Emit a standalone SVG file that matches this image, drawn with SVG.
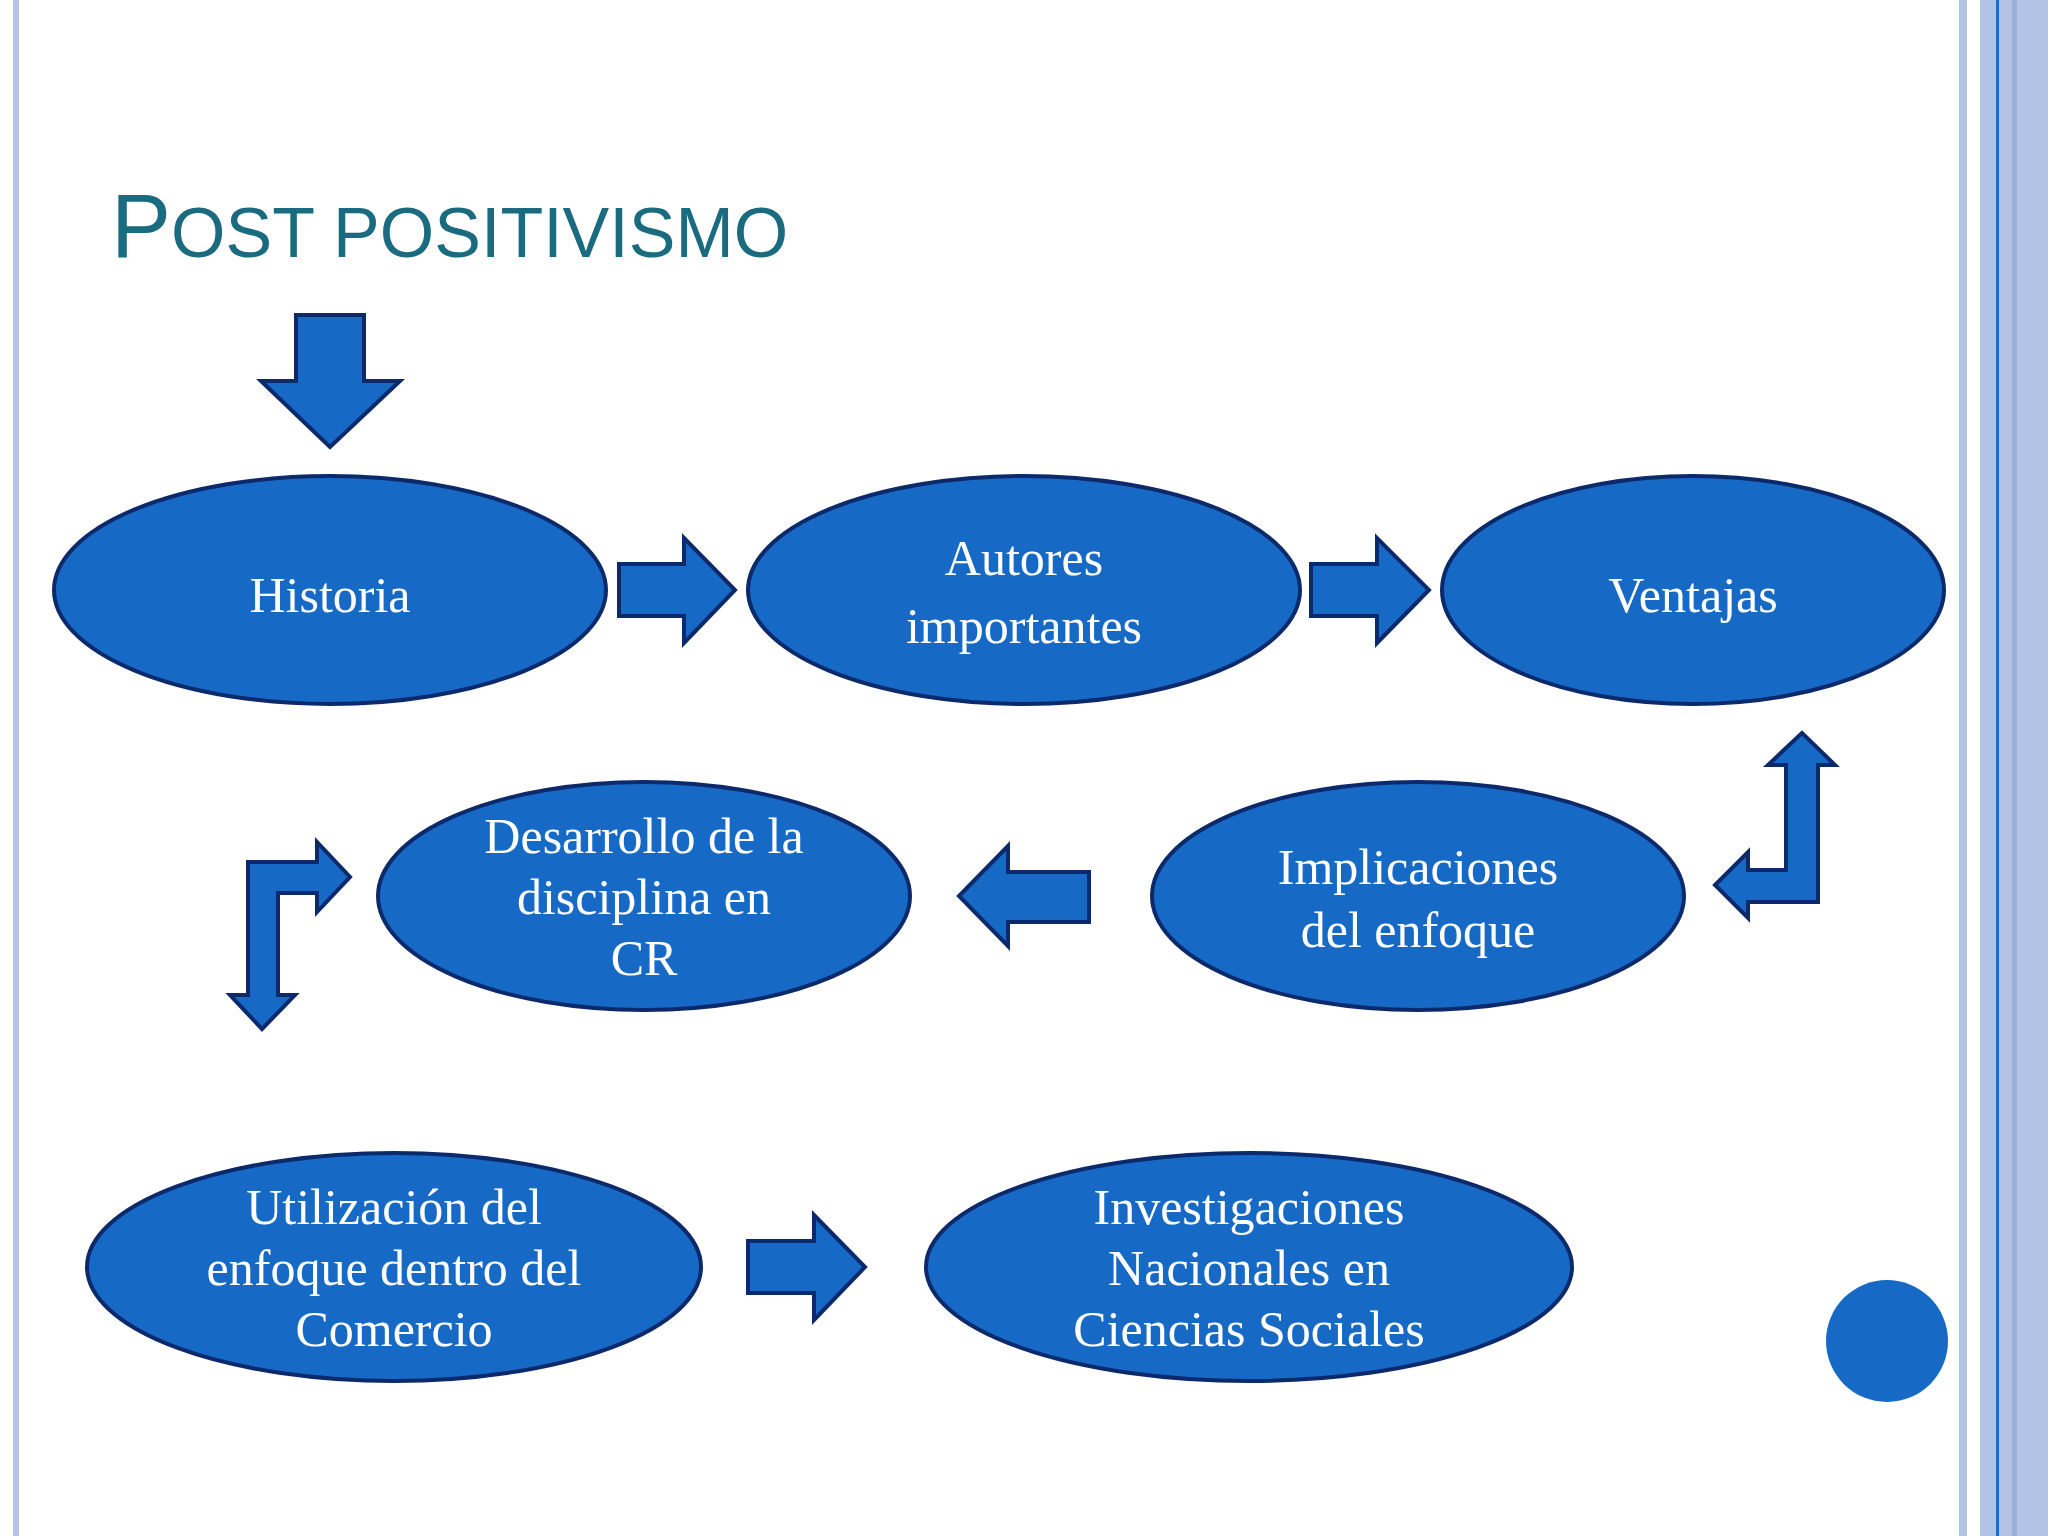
<svg xmlns="http://www.w3.org/2000/svg" width="2048" height="1536" viewBox="0 0 2048 1536">
<style>
.n{fill:#1769c6;stroke:#0c2a6b;stroke-width:4}
.a{fill:#1769c6;stroke:#0c2a6b;stroke-width:4;stroke-linejoin:miter}
.t{fill:#fff;font-family:"Liberation Serif",serif;font-size:50px;text-anchor:middle}
.ti{fill:#1a6b80;font-family:"Liberation Sans",Arial,sans-serif}
</style>
<rect width="2048" height="1536" fill="#fff"/>
<rect x="13" y="0" width="6" height="1536" fill="#b3c3e6"/>
<rect x="1959" y="0" width="8" height="1536" fill="#b3c3e6"/>
<rect x="1980" y="0" width="68" height="1536" fill="#b3c3e6"/>
<rect x="1996" y="0" width="3" height="1536" fill="#1f6ad0"/>
<rect x="2012" y="0" width="5" height="1536" fill="#98b2dd"/>
<text class="ti" x="111" y="257"><tspan font-size="90">P</tspan><tspan font-size="70">OST POSITIVISMO</tspan></text>
<g id="connectors">
<path class="a" d="M296,315H364V381H400L330,447L261,381H296Z"/>
<path class="a" d="M619,564H684V538L735,590L684,643V616H619Z"/>
<path class="a" d="M1311,564H1377V538L1429,590L1377,643V616H1311Z"/>
<path class="a" d="M1089,872H1008V846L959,896L1008,946V922H1089Z"/>
<path class="a" d="M748,1241H814V1215L865,1267L814,1320V1293H748Z"/>
<path class="a" d="M1818,902H1748V918L1715,885L1748,852V870H1786V765H1768L1802,733L1835,765H1818Z"/>
<path class="a" d="M248,862H317V842L350,877L317,912V893H278V995H295L262,1029L230,995H248Z"/>
</g>
<g id="historia"><ellipse class="n" cx="330" cy="590" rx="276" ry="114"/><text class="t" x="330" y="612" font-size="63">Historia</text></g>
<g id="autores"><ellipse class="n" cx="1024" cy="590" rx="276" ry="114"/><text class="t" x="1024" y="575">Autores</text><text class="t" x="1024" y="643">importantes</text></g>
<g id="ventajas"><ellipse class="n" cx="1693" cy="590" rx="251" ry="114"/><text class="t" x="1693" y="612" font-size="63">Ventajas</text></g>
<g id="implicaciones"><ellipse class="n" cx="1418" cy="896" rx="266" ry="114"/><text class="t" x="1418" y="884">Implicaciones</text><text class="t" x="1418" y="947">del enfoque</text></g>
<g id="desarrollo"><ellipse class="n" cx="644" cy="896" rx="266" ry="114"/><text class="t" x="644" y="853">Desarrollo de la</text><text class="t" x="644" y="914">disciplina en</text><text class="t" x="644" y="975">CR</text></g>
<g id="utilizacion"><ellipse class="n" cx="394" cy="1267" rx="307" ry="114"/><text class="t" x="394" y="1224">Utilización del</text><text class="t" x="394" y="1285">enfoque dentro del</text><text class="t" x="394" y="1346">Comercio</text></g>
<g id="investigaciones"><ellipse class="n" cx="1249" cy="1267" rx="323" ry="114"/><text class="t" x="1249" y="1224">Investigaciones</text><text class="t" x="1249" y="1285">Nacionales en</text><text class="t" x="1249" y="1346">Ciencias Sociales</text></g>
<circle cx="1887" cy="1341" r="61" fill="#1769c6"/>
</svg>
